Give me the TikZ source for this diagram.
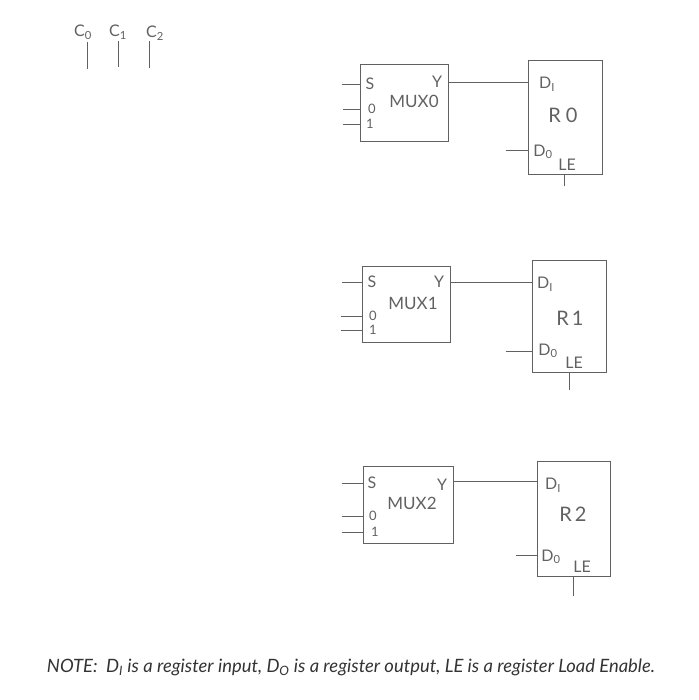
\documentclass[tikz,border=0pt]{standalone}
\usepackage{fontspec}
\setmainfont{Lato}
\usepackage{tikz}
\definecolor{pencil}{rgb}{0.38,0.38,0.38}
\definecolor{notegray}{rgb}{0.2,0.2,0.2}
\tikzset{
	hand/.style={inner sep=0pt, text=pencil, font=\fontsize{16}{16}\selectfont},
	handname/.style={inner sep=0pt, text=pencil, font=\fontsize{17}{17}\selectfont},
	handreg/.style={inner sep=0pt, text=pencil, font=\fontsize{20}{20}\selectfont},
	handsm/.style={inner sep=0pt, text=pencil, font=\fontsize{13}{13}\selectfont},
	handle/.style={inner sep=0pt, text=pencil, font=\fontsize{16}{16}\selectfont},
	blockbox/.style={draw=pencil, line width=.9pt, rectangle, inner sep=0pt},
	wire/.style={draw=pencil, line width=.9pt}
}
\begin{document}
\begin{tikzpicture}[x=1pt,y=-1pt]
	\useasboundingbox (0,0) rectangle (698,700);
	% control signals
	\node [hand] (c0) at (83,32) {C\textsubscript{0}};
	\node [hand] (c1) at (118,32) {C\textsubscript{1}};
	\node [hand] (c2) at (155,33) {C\textsubscript{2}};
	\coordinate (c0end) at (87,69);
	\coordinate (c1end) at (118,67);
	\coordinate (c2end) at (149,68);
	\draw [wire] (c0end |- 0,42) -- (c0end);
	\draw [wire] (c1end |- 0,41) -- (c1end);
	\draw [wire] (c2end |- 0,41) -- (c2end);

	% mux 0 and register 0
	\node [blockbox, minimum width=88pt, minimum height=77pt] (mux0) at (404,102.5) {};
	\node [handname] (mux0name) at (414,101) {MUX0};
	\node [hand] (mux0s) at (370,84) {S};
	\node [hand] (mux0y) at (437,82) {Y};
	\node [handsm] (mux0a) at (372,109) {0};
	\node [handsm] (mux0b) at (370,124) {1};
	\draw [wire] ([xshift=-18pt] mux0.west |- mux0s) -- (mux0.west |- mux0s);
	\draw [wire] ([xshift=-17pt] mux0.west |- mux0a) -- (mux0.west |- mux0a);
	\draw [wire] ([xshift=-17pt] mux0.west |- mux0b) -- (mux0.west |- mux0b);
	\node [blockbox, minimum width=74pt, minimum height=114pt] (r0) at (565,117) {};
	\node [hand] (r0di) at (547,84) {D\textsubscript{I}};
	\node [handreg] (r0name) at (563,115) {R\kern5pt 0};
	\node [hand] (r0do) at (543,152) {D\textsubscript{0}};
	\node [handle] (r0le) at (567,165) {LE};
	\draw [wire] (mux0.east |- mux0y) -- (r0.west |- mux0y);
	\draw [wire] ([xshift=-22pt,yshift=2pt] r0.west |- r0do) -- ([yshift=2pt] r0.west |- r0do);
	\draw [wire] ([xshift=-3pt] r0.south -| r0le) -- ([xshift=-3pt,yshift=-12pt] r0.south -| r0le);

	% mux 1 and register 1
	\node [blockbox, minimum width=88pt, minimum height=76pt] (mux1) at (406,304) {};
	\node [handname] (mux1name) at (413,303) {MUX1};
	\node [hand] (mux1s) at (372,282) {S};
	\node [hand] (mux1y) at (439,282) {Y};
	\node [handsm] (mux1a) at (373,316) {0};
	\node [handsm] (mux1b) at (373,330) {1};
	\draw [wire] ([xshift=-20pt] mux1.west |- mux1s) -- (mux1.west |- mux1s);
	\draw [wire] ([xshift=-21pt] mux1.west |- mux1a) -- (mux1.west |- mux1a);
	\draw [wire] ([xshift=-21pt] mux1.west |- mux1b) -- (mux1.west |- mux1b);
	\node [blockbox, minimum width=74pt, minimum height=112pt] (r1) at (569,316) {};
	\node [hand] (r1di) at (545,284) {D\textsubscript{I}};
	\node [handreg] (r1name) at (570,318) {R\kern3pt 1};
	\node [hand] (r1do) at (548,351) {D\textsubscript{0}};
	\node [handle] (r1le) at (574,363) {LE};
	\draw [wire] (mux1.east |- mux1y) -- (r1.west |- mux1y);
	\draw [wire] ([xshift=-26pt] r1.west |- r1do) -- (r1.west |- r1do);
	\draw [wire] ([xshift=-5pt] r1.south -| r1le) -- ([xshift=-5pt,yshift=-18pt] r1.south -| r1le);

	% mux 2 and register 2
	\node [blockbox, minimum width=90pt, minimum height=77pt] (mux2) at (408,504.5) {};
	\node [handname] (mux2name) at (412,503) {MUX2};
	\node [hand] (mux2s) at (372,483) {S};
	\node [hand] (mux2y) at (442,485) {Y};
	\node [handsm] (mux2a) at (373,516) {0};
	\node [handsm] (mux2b) at (375,532) {1};
	\draw [wire] ([xshift=-21pt] mux2.west |- mux2s) -- (mux2.west |- mux2s);
	\draw [wire] ([xshift=-21pt] mux2.west |- mux2a) -- (mux2.west |- mux2a);
	\draw [wire] ([xshift=-21pt] mux2.west |- mux2b) -- (mux2.west |- mux2b);
	\node [blockbox, minimum width=73pt, minimum height=115pt] (r2) at (573.5,518.5) {};
	\node [hand] (r2di) at (553,485) {D\textsubscript{I}};
	\node [handreg] (r2name) at (573,514) {R\kern3pt 2};
	\node [hand] (r2do) at (551,557) {D\textsubscript{0}};
	\node [handle] (r2le) at (582,567) {LE};
	\draw [wire] ([yshift=4pt] mux2.east |- mux2y) -- ([yshift=4pt] r2.west |- mux2y);
	\draw [wire] ([xshift=-21pt,yshift=2pt] r2.west |- r2do) -- ([yshift=2pt] r2.west |- r2do);
	\draw [wire] ([xshift=-9pt] r2.south -| r2le) -- ([xshift=-9pt,yshift=-20pt] r2.south -| r2le);

	% note
	\node [inner sep=0pt, text=notegray, font=\fontsize{18.4}{18.4}\selectfont\itshape] (note) at (351,667) {NOTE:\ \ D\textsubscript{I} is a register input, D\textsubscript{O} is a register output, LE is a register Load Enable.};
\end{tikzpicture}
\end{document}
